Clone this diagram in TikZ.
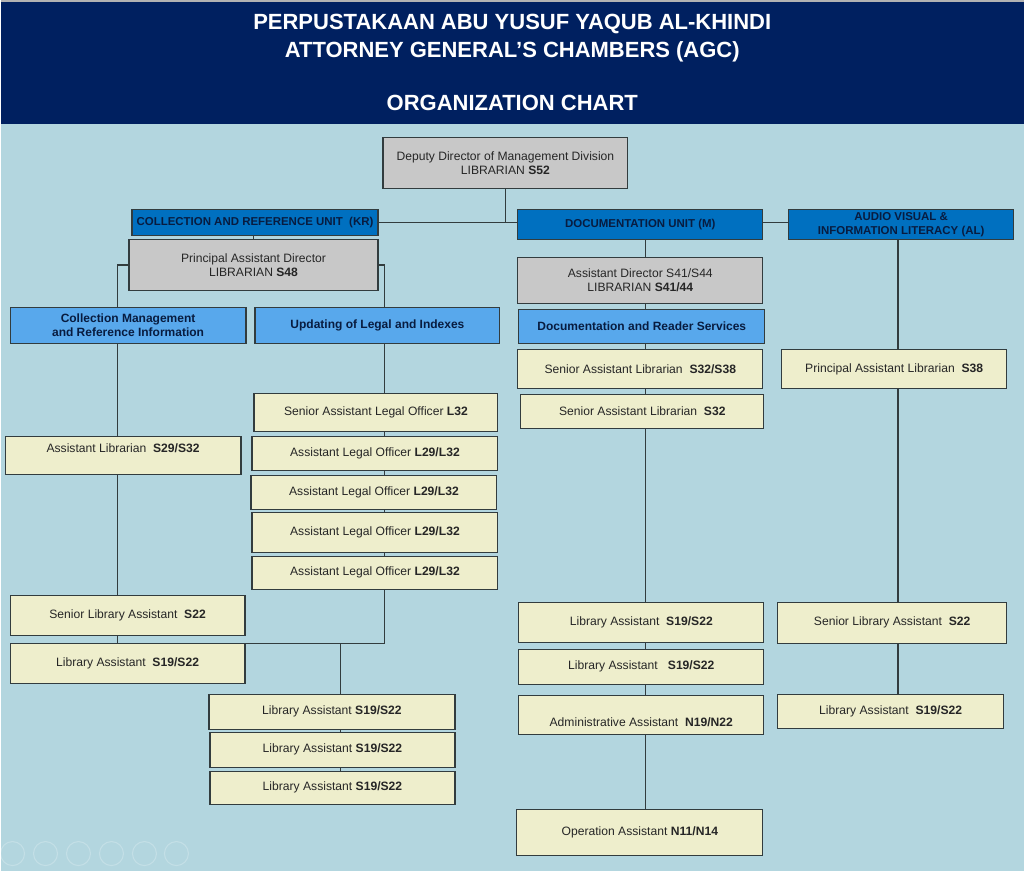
\documentclass[tikz,border=0pt]{standalone}
\usepackage{fontspec}
\setmainfont{Liberation Sans}
\definecolor{navy}{RGB}{0,32,96}
\definecolor{bgblue}{RGB}{179,214,223}
\definecolor{boxgray}{RGB}{200,200,200}
\definecolor{unitblue}{RGB}{0,112,192}
\definecolor{secblue}{RGB}{88,168,236}
\definecolor{cream}{RGB}{238,238,204}
\definecolor{edge}{RGB}{50,60,62}
\definecolor{txt}{RGB}{38,38,38}
\definecolor{unittxt}{RGB}{8,28,64}
\pgfdeclarelayer{bg}
\pgfdeclarelayer{lines}
\pgfsetlayers{bg,lines,main}
\tikzset{
  base/.style={draw=edge, line width=0.9pt, inner sep=0pt, align=center, text=txt,
    font=\fontsize{9.1}{10.8}\selectfont},
  graybox/.style={base, fill=boxgray},
  unitbox/.style={base, fill=unitblue, text=unittxt, font=\fontsize{8.6}{10.5}\selectfont\bfseries},
  secbox/.style={base, fill=secblue, text=unittxt, font=\fontsize{9}{10.5}\selectfont\bfseries},
  cbox/.style={base, fill=cream},
  conn/.style={draw=edge, line width=0.9pt},
  uicirc/.style={draw=white, opacity=0.22, line width=0.8pt},
  title/.style={text=white, font=\fontsize{16.5}{19}\selectfont\bfseries, inner sep=0pt, anchor=base}
}
\newcommand\obox[7]{%
  \pgfmathsetmacro\obw{(#4-#2)*0.75}%
  \pgfmathsetmacro\obh{(#5-#3)*0.75}%
  \node[#6, anchor=north west, minimum width=\obw pt, minimum height=\obh pt] (#1) at (#2,#3) {#7};}
\begin{document}
\begin{tikzpicture}[x=0.75pt, y=-0.75pt]
\begin{pgfonlayer}{bg}
  \fill[bgblue] (0,0) rectangle (1024,871);
  \fill[navy] (0,0) rectangle (1024,124);
  \fill[gray!60] (0,0) rectangle (1024,1.5);
  \foreach \cx in {12,45,78,111,144,176} {\draw[uicirc] (\cx,854) circle[radius=12];}
\end{pgfonlayer}
\useasboundingbox (0,0) rectangle (1024,871);

% header
\node[title] (t1) at (512,29.5) {PERPUSTAKAAN ABU YUSUF YAQUB AL-KHINDI};
\node[title] (t2) at (512,57.5) {ATTORNEY GENERAL’S CHAMBERS (AGC)};
\node[title] (t3) at (512,110.5) {ORGANIZATION CHART};

% column positions
\coordinate (colA) at (117,0);
\coordinate (colB) at (384,0);
\coordinate (colC) at (340,0);
\coordinate (colD) at (645,0);
\coordinate (colE) at (898,0);
\coordinate (jB) at (384,644);

% top
\obox{dep}{382}{137}{627}{188}{graybox}{Deputy Director of Management Division\\LIBRARIAN \textbf{S52}}
\obox{kr}{131}{209}{377}{235}{unitbox}{COLLECTION AND REFERENCE UNIT\ \ (KR)}
\obox{doc}{517}{209}{762}{239}{unitbox}{DOCUMENTATION UNIT (M)}
\obox{av}{788}{209}{1013}{239}{unitbox}{AUDIO VISUAL \&\\INFORMATION LITERACY (AL)}

% collection and reference unit
\obox{pad}{128}{239}{377}{290}{graybox}{Principal Assistant Director\\LIBRARIAN \textbf{S48}}
\obox{cm}{9}{307}{245}{343}{secbox}{Collection Management\\and Reference Information}
\obox{upd}{254}{307}{499}{343}{secbox}{Updating of Legal and Indexes}
\obox{al}{4}{436}{240}{474}{cbox}{\raisebox{2pt}[0pt][0pt]{Assistant Librarian \ \textbf{S29/S32}}}
\obox{sla}{9}{595}{244}{635}{cbox}{Senior Library Assistant \ \textbf{S22}}
\obox{la}{9}{643}{244}{683}{cbox}{Library Assistant \ \textbf{S19/S22}}
\obox{salo}{253}{393}{497}{431}{cbox}{Senior Assistant Legal Officer \textbf{L32}}
\obox{alo1}{251}{436}{497}{470}{cbox}{Assistant Legal Officer \textbf{L29/L32}}
\obox{alo2}{250}{475}{496}{509}{cbox}{Assistant Legal Officer \textbf{L29/L32}}
\obox{alo3}{251}{512}{497}{552}{cbox}{Assistant Legal Officer \textbf{L29/L32}}
\obox{alo4}{251}{556}{497}{589}{cbox}{Assistant Legal Officer \textbf{L29/L32}}
\obox{lla1}{208}{694}{454}{729}{cbox}{Library Assistant \textbf{S19/S22}}
\obox{lla2}{209}{732}{454}{767}{cbox}{Library Assistant \textbf{S19/S22}}
\obox{lla3}{209}{771}{454}{804}{cbox}{Library Assistant \textbf{S19/S22}}

% documentation unit
\obox{ad}{517}{257}{762}{303}{graybox}{Assistant Director S41/S44\\LIBRARIAN \textbf{S41/44}}
\obox{drs}{518}{309}{764}{343}{secbox}{Documentation and Reader Services}
\obox{sal1}{517}{349}{762}{388}{cbox}{Senior Assistant Librarian \ \textbf{S32/S38}}
\obox{sal2}{520}{394}{763}{428}{cbox}{Senior Assistant Librarian \ \textbf{S32}}
\obox{dla1}{518}{602}{763}{642}{cbox}{Library Assistant \ \textbf{S19/S22}}
\obox{dla2}{518}{649}{763}{684}{cbox}{Library Assistant \ \ \textbf{S19/S22}}
\obox{adm}{518}{695}{763}{734}{cbox}{\raisebox{-8.8pt}[0pt][0pt]{Administrative Assistant \ \textbf{N19/N22}}}
\obox{op}{516}{809}{762}{855}{cbox}{Operation Assistant \textbf{N11/N14}}

% audio visual unit
\obox{pal}{781}{349}{1006}{388}{cbox}{Principal Assistant Librarian \ \textbf{S38}}
\obox{asla}{777}{602}{1006}{643}{cbox}{Senior Library Assistant \ \textbf{S22}}
\obox{ala}{777}{694}{1003}{728}{cbox}{Library Assistant \ \textbf{S19/S22}}

% connectors
\begin{pgfonlayer}{lines}
  \draw[conn] (dep.south) -- (dep.south |- kr.east);
  \draw[conn] (kr.east) -- (kr.east -| doc.west);
  \draw[conn] (doc.east |- kr.east) -- (av.west |- kr.east);
  \draw[conn] (kr.south -| pad.north) -- (pad.north);
  \draw[conn] (pad.west) -| (cm.north -| colA);
  \draw[conn] (pad.east) -| (upd.north -| colB);
  \draw[conn] (cm.south -| colA) -- (la.north -| colA);
  \draw[conn] (upd.south -| colB) -- (jB) -- (jB -| la.east);
  \draw[conn] (jB -| colC) -- (lla3.north -| colC);
  \draw[conn] (doc.south -| colD) -- (op.north -| colD);
  \draw[conn] (av.south -| colE) -- (ala.north -| colE);
\end{pgfonlayer}
\end{tikzpicture}
\end{document}
